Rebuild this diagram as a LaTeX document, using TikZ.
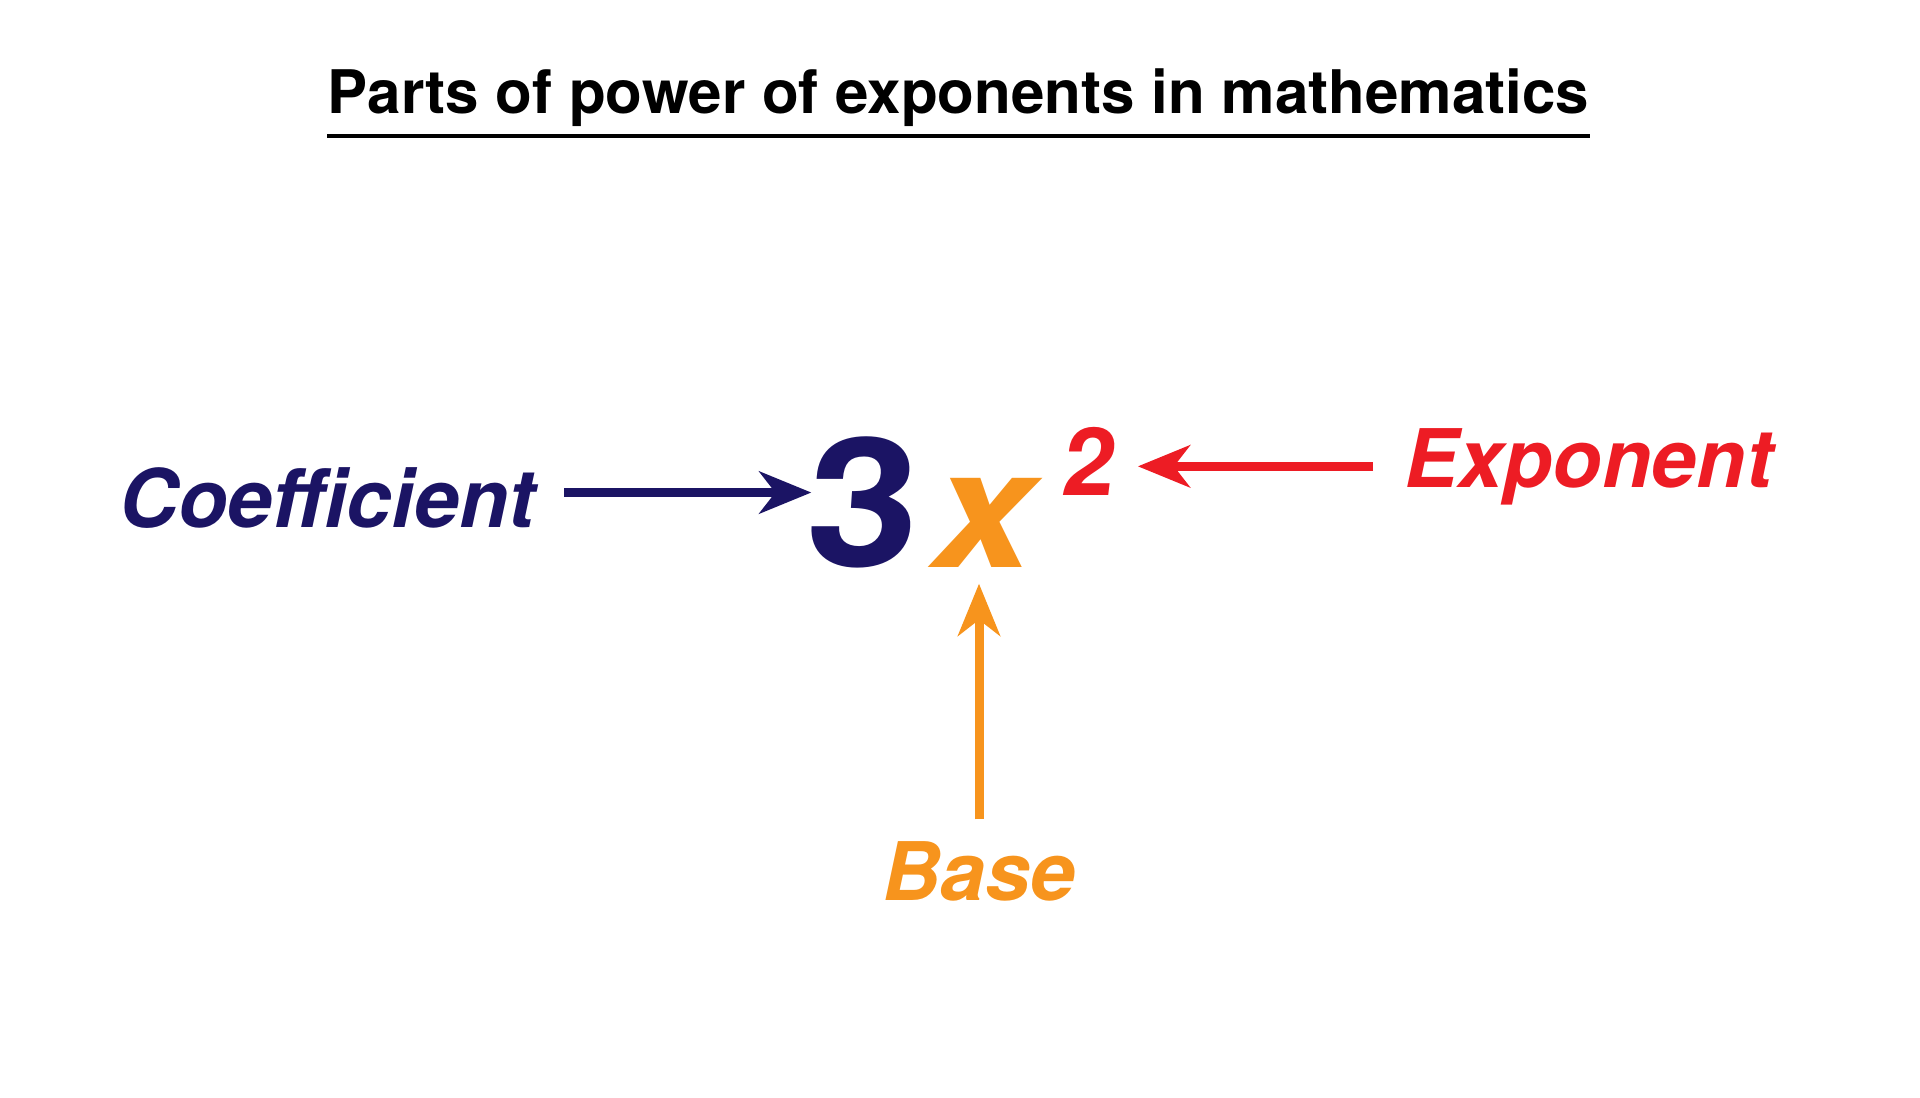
\documentclass[tikz,border=0pt]{standalone}
\usepackage{fontspec}
\setmainfont{TeX Gyre Heros}
\usetikzlibrary{arrows.meta,positioning}
\definecolor{coefblue}{HTML}{1B1464}
\definecolor{baseorange}{HTML}{F7941D}
\definecolor{expored}{HTML}{ED1C24}
\tikzstyle{titletext} = [font=\fontsize{17.1}{20}\selectfont\bfseries, inner sep=0pt]
\tikzstyle{partname} = [font=\fontsize{23}{26}\selectfont\bfseries\itshape, inner sep=0pt]
\tikzstyle{pointer} = [line width=0.9mm, -{Stealth[length=5.2mm, width=4.2mm, inset=1.6mm]}]

\begin{document}
\begin{tikzpicture}
\useasboundingbox (0,0) rectangle (19.2,-10.97);

\node [titletext, anchor=base] (title) at (9.585,-1.14) {Parts of power of exponents in mathematics};
\draw [line width=0.35mm] ([yshift=-2.2mm]title.base west) -- ([yshift=-2.2mm]title.base east);

% the term 3x^2
\node [inner sep=0pt, xscale=1.13, xslant=0.06, font=\fontsize{51}{60}\selectfont\bfseries, text=coefblue, anchor=base west] (three) at (8.03,-5.66) {3};
\node [inner sep=0pt, xscale=1.1, font=\fontsize{47}{54}\selectfont\bfseries\itshape, text=baseorange, anchor=base west] (ex) at (9.32,-5.67) {x};
\node [inner sep=0pt, xslant=0.12, font=\fontsize{26.8}{30}\selectfont\bfseries, text=expored, anchor=base west] (two) at (10.60,-4.95) {2};

% names of the parts
\node [partname, text=coefblue, anchor=base west] (coef) at (1.19,-5.27) {Coefficient};
\node [partname, text=expored, anchor=base west] (expo) at (14.04,-4.87) {Exponent};
\node [partname, text=baseorange, anchor=base] (base) at (9.79,-9.00) {Base};

\draw [pointer, coefblue] ([xshift=2.8mm, yshift=0.5mm]coef.east) -- ([xshift=0.4mm, yshift=0.5mm]three.west |- coef.east);
\draw [pointer, expored] ([xshift=-3.1mm]expo.west) -- ([xshift=2mm]two.east |- expo.west);
\draw [pointer, baseorange] ([yshift=2.1mm]base.north) -- ([yshift=-1.6mm]base.north |- ex.south);

\end{tikzpicture}
\end{document}
